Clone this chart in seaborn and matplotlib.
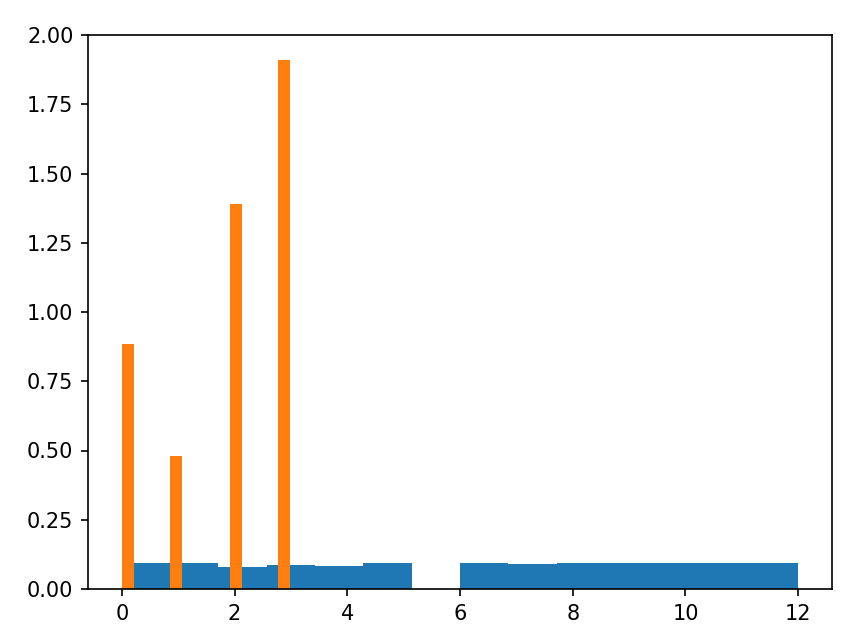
import numpy as np
import pandas as pd
import matplotlib
matplotlib.use("Agg")
import matplotlib.pyplot as plt
import seaborn as sns

# Blue histogram: 14 bins over 0..12 (density heights)
blue_edges = list(np.linspace(0, 12, 15))
blue_heights = [0.0933, 0.0933, 0.0778, 0.0856, 0.0817, 0.0933, 0.0,
                0.0933, 0.0894, 0.0933, 0.0933, 0.0933, 0.0933, 0.0933]

# Orange histogram: 14 bins over 0..2.98 (density heights)
orange_edges = list(np.linspace(0, 2.98, 15))
orange_heights = [0.884, 0, 0, 0, 0.480, 0, 0, 0, 0, 1.390, 0, 0, 0, 1.909]

be = np.array(blue_edges)
oe = np.array(orange_edges)
blue_df = pd.DataFrame({"x": (be[:-1] + be[1:]) / 2, "w": blue_heights})
orange_df = pd.DataFrame({"x": (oe[:-1] + oe[1:]) / 2, "w": orange_heights})

fig = plt.figure(figsize=(865 / 150, 644 / 150), dpi=150)
ax = fig.add_axes([88 / 865, 55 / 644, (832 - 88) / 865, (589 - 35) / 644])

sns.histplot(data=blue_df, x="x", weights="w", bins=blue_edges, stat="count",
             color="#1f77b4", alpha=1, linewidth=0, ax=ax)
sns.histplot(data=orange_df, x="x", weights="w", bins=orange_edges, stat="count",
             color="#ff7f0e", alpha=1, linewidth=0, ax=ax)

ax.set_xlim(-0.6, 12.6)
ax.set_ylim(0, 2.0)
ax.set_xticks([0, 2, 4, 6, 8, 10, 12])
yt = [0, 0.25, 0.5, 0.75, 1.0, 1.25, 1.5, 1.75, 2.0]
ax.set_yticks(yt)
ax.set_yticklabels([f"{v:.2f}" for v in yt])
ax.set_xlabel("")
ax.set_ylabel("")

fig.savefig("out.png", dpi=150)
